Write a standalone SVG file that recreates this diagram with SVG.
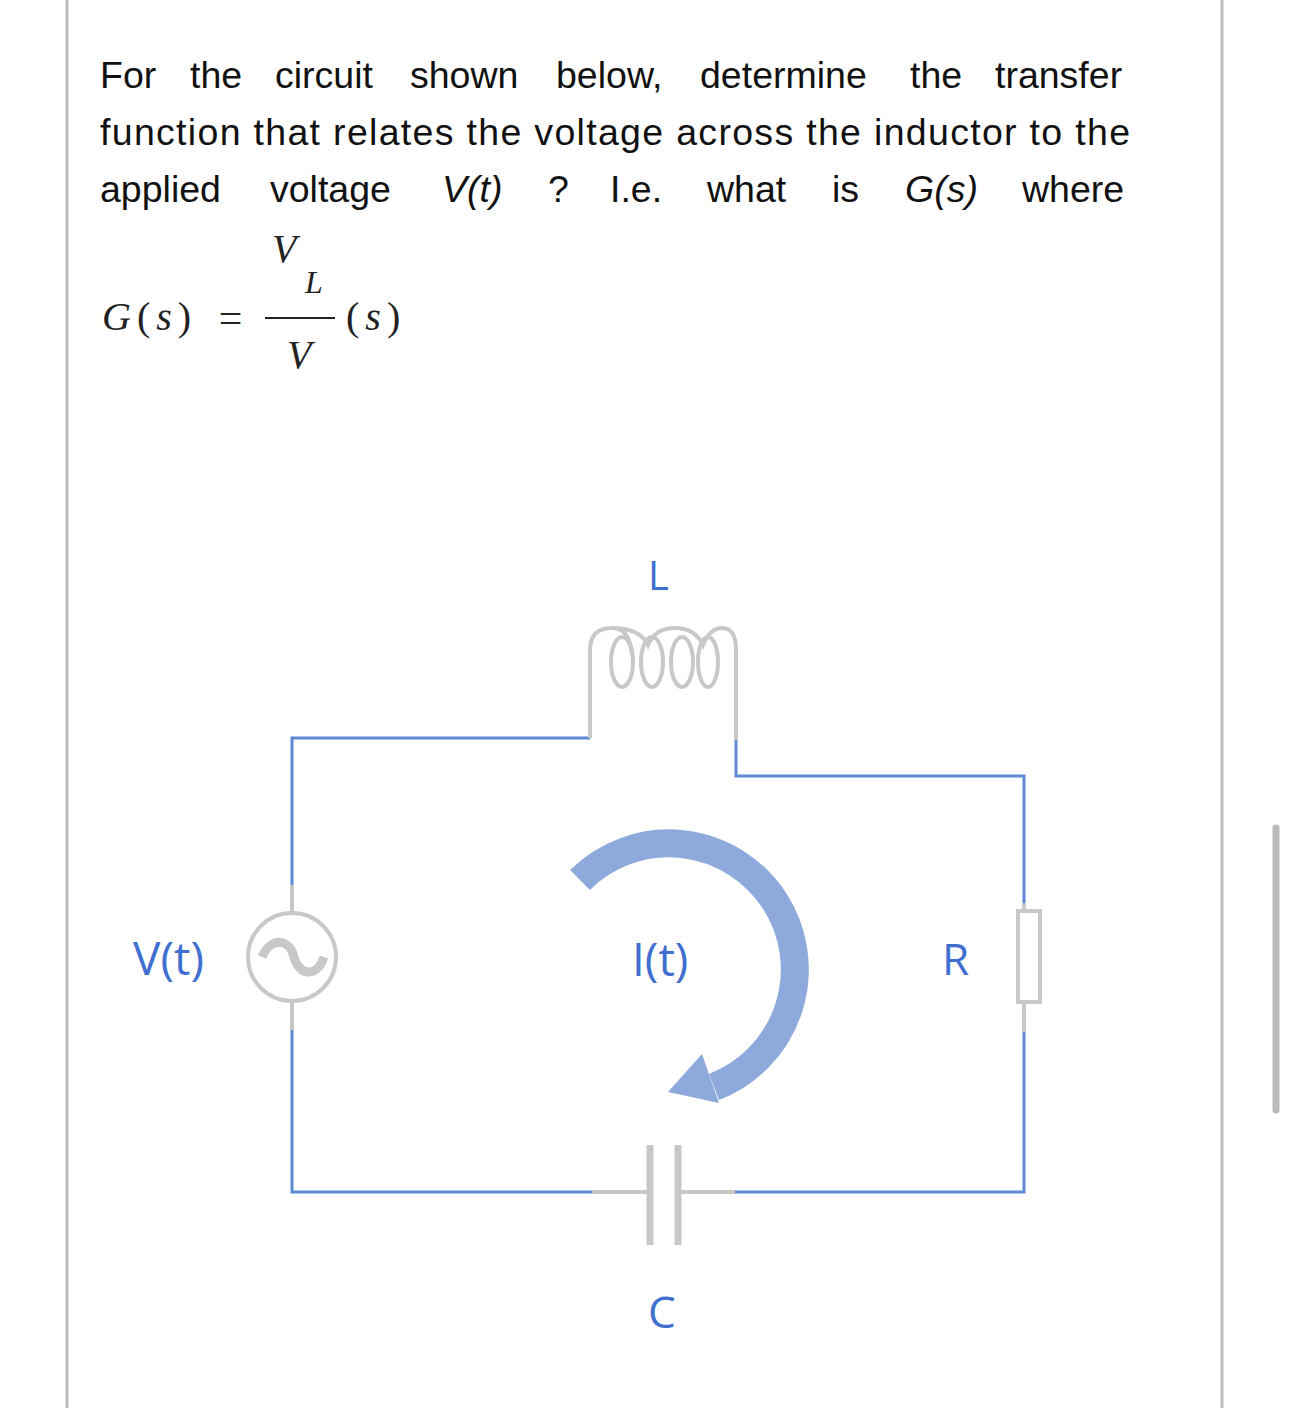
<svg xmlns="http://www.w3.org/2000/svg" width="1290" height="1408" viewBox="0 0 1290 1408">
<style>
.t{font-family:"Liberation Sans",Arial,sans-serif;font-size:37.5px;fill:#111}
.i{font-style:italic}
.m{font-family:"Liberation Serif","Times New Roman",serif;font-style:italic;fill:#222}
.w{stroke:#5b8ad6;stroke-width:3;fill:none}
.g{stroke:#c8c8c8;stroke-width:4;fill:none}
.lb{font-family:"Open Sans","DejaVu Sans",sans-serif;fill:#3f6fcf}
</style>
<rect width="1290" height="1408" fill="#fff"/>
<line x1="67" y1="0" x2="67" y2="1408" stroke="#bbb" stroke-width="3"/>
<line x1="1222" y1="0" x2="1222" y2="1408" stroke="#bbb" stroke-width="3"/>
<line x1="1276" y1="828" x2="1276" y2="1110" stroke="#bbb" stroke-width="7" stroke-linecap="round"/>
<g id="question">
<text class="t" y="88"><tspan x="100">For</tspan><tspan x="190">the</tspan><tspan x="275">circuit</tspan><tspan x="410">shown</tspan><tspan x="556">below,</tspan><tspan x="700">determine</tspan><tspan x="910">the</tspan><tspan x="995">transfer</tspan></text>
<text class="t" x="100" y="145" textLength="1030" lengthAdjust="spacing">function that relates the voltage across the inductor to the</text>
<text class="t" y="202"><tspan x="100">applied</tspan><tspan x="270">voltage</tspan><tspan x="442" class="i">V(t)</tspan><tspan x="548">?</tspan><tspan x="610">I.e.</tspan><tspan x="707">what</tspan><tspan x="832">is</tspan><tspan x="905" class="i">G(s)</tspan><tspan x="1022">where</tspan></text>
</g>
<g id="equation">
<text class="m" x="102" y="330" font-size="40" letter-spacing="6">G<tspan font-style="normal">(</tspan>s<tspan font-style="normal">)</tspan></text>
<text class="m" x="216" y="332" font-size="42" font-style="normal">=</text>
<line x1="265" y1="318" x2="335" y2="318" stroke="#222" stroke-width="2"/>
<text class="m" x="272" y="262" font-size="40">V</text>
<text class="m" x="305" y="293" font-size="32">L</text>
<text class="m" x="287" y="368" font-size="40">V</text>
<text class="m" x="346" y="330" font-size="40" letter-spacing="6"><tspan font-style="normal">(</tspan>s<tspan font-style="normal">)</tspan></text>
</g>
<g id="connectors">
<polyline class="w" points="590,738 292,738 292,885"/>
<polyline class="w" points="736,740 736,776 1024,776 1024,903"/>
<polyline class="w" points="1024,1032 1024,1192 735,1192"/>
<polyline class="w" points="592,1192 292,1192 292,1030"/>
</g>
<g id="inductor">
<path class="g" d="M590,738 V650 Q590,628 612,628 Q640,628 648,645 Q655,628 675,628 Q695,628 703,645 Q710,628 722,628 Q736,628 736,650 V740"/>
<path class="g" d="M612,628 Q630,628 632,655"/>
<ellipse class="g" cx="622" cy="662" rx="11" ry="25"/>
<ellipse class="g" cx="652" cy="662" rx="11" ry="25"/>
<ellipse class="g" cx="682" cy="662" rx="11" ry="25"/>
<ellipse class="g" cx="708" cy="662" rx="10" ry="25"/>
<text class="lb" x="648" y="590" font-size="40">L</text>
</g>
<g id="source">
<line class="g" x1="292" y1="885" x2="292" y2="913"/>
<line class="g" x1="292" y1="1001" x2="292" y2="1030"/>
<circle class="g" cx="292" cy="957" r="44"/>
<path d="M262,957 C272,935 290,940 294,957 C298,974 316,980 324,957" stroke="#c8c8c8" stroke-width="9" fill="none"/>
<text class="lb" x="133" y="975" font-size="46">V(t)</text>
</g>
<g id="resistor">
<line class="g" x1="1024" y1="903" x2="1024" y2="911"/>
<line class="g" x1="1024" y1="1002" x2="1024" y2="1032"/>
<rect class="g" x="1018" y="911" width="22" height="91" stroke-width="6"/>
<text class="lb" x="942" y="975" font-size="44">R</text>
</g>
<g id="capacitor">
<line class="g" x1="592" y1="1192" x2="650" y2="1192"/>
<line class="g" x1="678" y1="1192" x2="735" y2="1192"/>
<line x1="650" y1="1145" x2="650" y2="1245" stroke="#c8c8c8" stroke-width="7"/>
<line x1="678" y1="1145" x2="678" y2="1245" stroke="#c8c8c8" stroke-width="7"/>
<text class="lb" x="648" y="1328" font-size="44">C</text>
</g>
<g id="current">
<path d="M580,880 A126,126 0 1 1 714,1087" stroke="#8ea9db" stroke-width="28" fill="none"/>
<polygon points="668,1092 702,1054 719,1103" fill="#8ea9db"/>
<text class="lb" x="632" y="976" font-size="46">I(t)</text>
</g>
</svg>
